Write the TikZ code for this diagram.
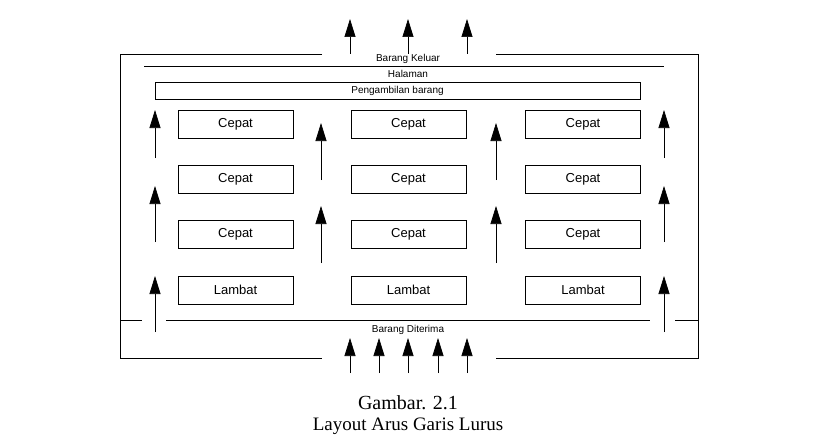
\documentclass[tikz,border=0pt]{standalone}
\usepackage{fontspec}
\setmainfont{Liberation Sans}
\newfontfamily\capfont{Liberation Serif}
\usetikzlibrary{arrows.meta}
\begin{document}
\begin{tikzpicture}[x=1pt,y=-1pt,
  bx/.style={draw,line width=0.7pt,minimum width=115pt,minimum height=28pt,inner sep=0pt,font=\fontsize{13}{13}\selectfont},
  sm/.style={font=\fontsize{10}{10}\selectfont,inner sep=0pt},
  ar/.style={-{Triangle[width=11pt,length=18pt]},line width=0.7pt},
  ln/.style={line width=0.8pt}]
\useasboundingbox (0,0) rectangle (832,436);
% frame
\draw[ln] (322,54) -- (120,54) -- (120,358) -- (322,358);
\draw[ln] (496,54) -- (698,54) -- (698,358) -- (496,358);
\draw[ln] (144,66) -- (664,66);
\draw[ln] (120,320) -- (142,320);
\draw[ln] (166,320) -- (650,320);
\draw[ln] (675,320) -- (698,320);
\node[sm] (bk) at (408,59) {Barang Keluar};
\node[sm] (hal) at (408,73.5) {Halaman};
\node[draw,line width=0.7pt,minimum width=485pt,minimum height=17pt,inner sep=0pt,font=\fontsize{10}{10}\selectfont] (pb) at (397.5,90.5) {Pengambilan barang};
\node[sm] (bd) at (408,330) {Barang Diterima};
% boxes
\foreach \x/\n in {235.5/a,408.5/b,583/c}{
  \node[bx] (\n1) at (\x,124) {Cepat};
  \node[bx] (\n2) at (\x,179.5) {Cepat};
  \node[bx] (\n3) at (\x,234.5) {Cepat};
  \node[bx] (\n4) at (\x,290) {Lambat};
}
% arrows
\foreach \x in {350,408,467}{
  \coordinate (t1) at (\x,54); \coordinate (t2) at (\x,19);
  \draw[ar] (t1) -- (t2);}
\foreach \x in {350,379,408,438,467}{
  \coordinate (t1) at (\x,373); \coordinate (t2) at (\x,338);
  \draw[ar] (t1) -- (t2);}
\foreach \x in {155,664}{
  \foreach \a/\b in {158/110,242/186,332/276}{
  \coordinate (t1) at (\x,\a); \coordinate (t2) at (\x,\b);
  \draw[ar] (t1) -- (t2);}}
\foreach \x in {321,496}{
  \foreach \a/\b in {180/123,263/206}{
  \coordinate (t1) at (\x,\a); \coordinate (t2) at (\x,\b);
  \draw[ar] (t1) -- (t2);}}
% caption
\node[font=\capfont\fontsize{20}{20}\selectfont,inner sep=0pt] (c1) at (408,403) {Gambar. 2.1};
\node[font=\capfont\fontsize{19}{19}\selectfont,inner sep=0pt,anchor=north] (c2) at (408,418) {Layout Arus Garis Lurus};
\end{tikzpicture}
\end{document}
